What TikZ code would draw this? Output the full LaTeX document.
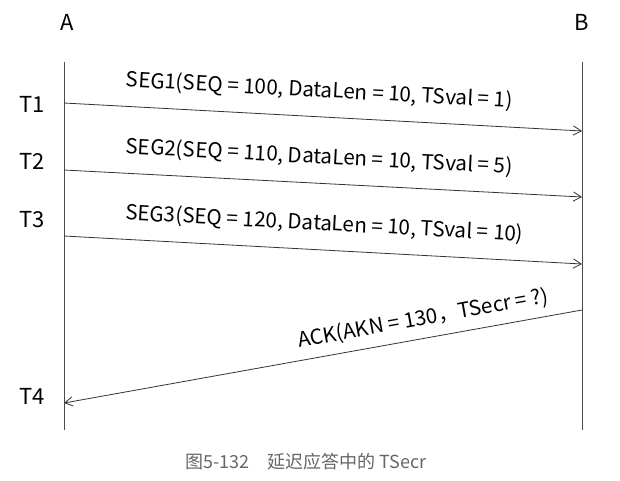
\documentclass[tikz,border=0pt]{standalone}
\usepackage{fontspec}
\setmainfont{Noto Sans CJK SC}
\usetikzlibrary{arrows.meta}
\begin{document}
\begin{tikzpicture}[x=0.75pt,y=-0.75pt,
  life/.style={draw=black!70,line width=0.6pt},
  msg/.style={draw=black!80,line width=0.6pt,-{Straight Barb[length=6pt,width=7pt]}},
  lbl/.style={font=\fontsize{16.5}{18}\selectfont},
  mlab/.style={font=\fontsize{15.5}{17}\selectfont,sloped,above}]
\useasboundingbox (0,0) rectangle (620,480);
\node[lbl] (A) at (67,22) {A};
\node[lbl] (B) at (582,22) {B};
\coordinate (At) at (64,62); \coordinate (Ab) at (64,430);
\coordinate (Bt) at (582,62); \coordinate (Bb) at (582,430);
\draw[life] (At) -- (Ab);
\draw[life] (Bt) -- (Bb);
\node[lbl] (t1) at (32,104) {T1};
\node[lbl] (t2) at (32,161) {T2};
\node[lbl] (t3) at (32,220) {T3};
\node[lbl] (t4) at (32,396) {T4};
\coordinate (s1) at (64,103); \coordinate (e1) at (582,131);
\coordinate (s2) at (64,170); \coordinate (e2) at (582,197);
\coordinate (s3) at (64,236); \coordinate (e3) at (582,264);
\coordinate (s4) at (582,310); \coordinate (e4) at (64,403);
\newcommand\sq{\ =\ }
\draw[msg] (s1) -- node[mlab,pos=0.49,yshift=8pt] {SEG1(SEQ\sq100, DataLen\sq10, TSval\sq1)} (e1);
\draw[msg] (s2) -- node[mlab,pos=0.49,yshift=8pt] {SEG2(SEQ\sq110, DataLen\sq10, TSval\sq5)} (e2);
\draw[msg] (s3) -- node[mlab,pos=0.5,yshift=8pt] {SEG3(SEQ\sq120, DataLen\sq10, TSval\sq10)} (e3);
\draw[msg] (s4) -- node[mlab,pos=0.3,yshift=3pt] {ACK(AKN\sq130，TSecr\sq?)} (e4);
\node[font=\fontsize{13.5}{15}\selectfont,text=black!60] (cap) at (306,462) {图5-132\quad 延迟应答中的 TSecr};
\end{tikzpicture}
\end{document}
